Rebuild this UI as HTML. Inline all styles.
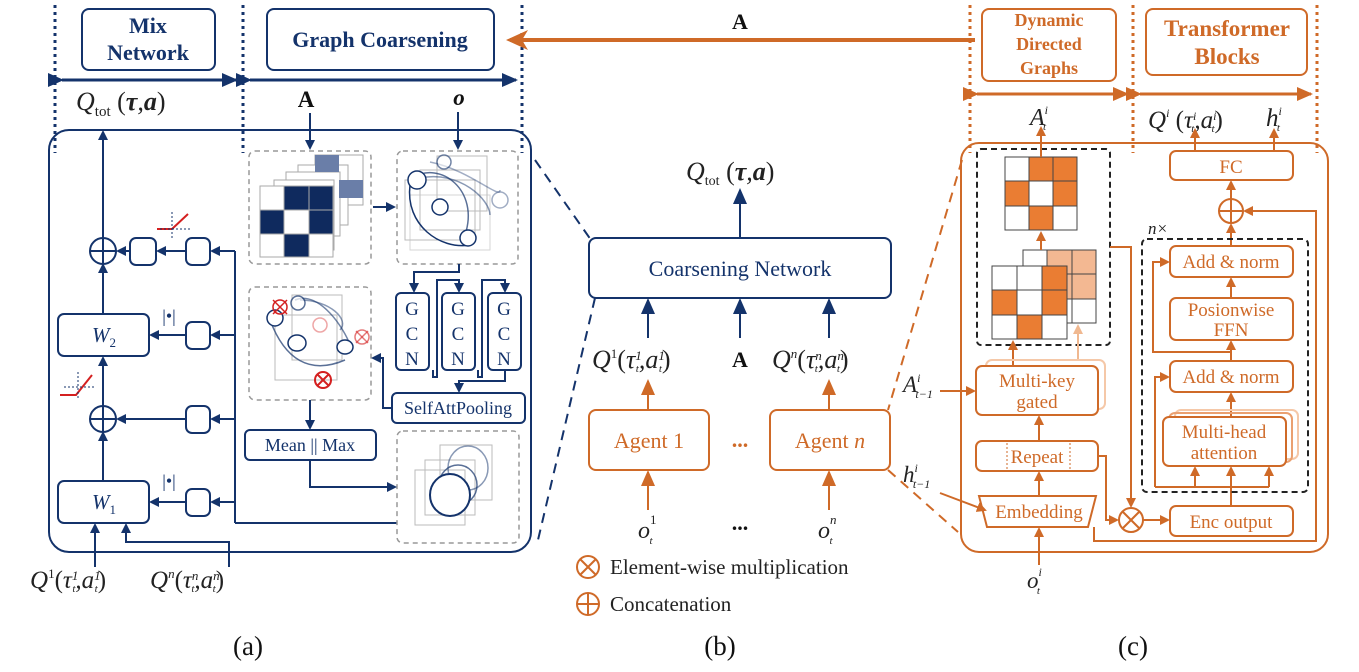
<!DOCTYPE html>
<html><head><meta charset="utf-8"><style>
html,body{margin:0;padding:0;background:#fff}
svg{display:block}
text{font-family:"Liberation Serif",serif}
</style></head><body>
<svg width="1359" height="672" viewBox="0 0 1359 672" xmlns="http://www.w3.org/2000/svg">
<defs>
<marker id="nv" markerWidth="10" markerHeight="10" refX="8" refY="5" orient="auto" markerUnits="userSpaceOnUse"><path d="M0,0 L10,5 L0,10 z" fill="#14336b"/></marker>
<marker id="or" markerWidth="10" markerHeight="10" refX="8" refY="5" orient="auto" markerUnits="userSpaceOnUse"><path d="M0,0 L10,5 L0,10 z" fill="#cf6a28"/></marker>
<marker id="orl" markerWidth="10" markerHeight="10" refX="8" refY="5" orient="auto" markerUnits="userSpaceOnUse"><path d="M0,0 L10,5 L0,10 z" fill="#f0b890"/></marker>
<marker id="nvb" markerWidth="16" markerHeight="14" refX="14" refY="7" orient="auto" markerUnits="userSpaceOnUse"><path d="M0,0 L16,7 L0,14 z" fill="#14336b"/></marker>
<marker id="orb" markerWidth="16" markerHeight="14" refX="14" refY="7" orient="auto" markerUnits="userSpaceOnUse"><path d="M0,0 L16,7 L0,14 z" fill="#cf6a28"/></marker>
<marker id="orbig" markerWidth="22" markerHeight="20" refX="18" refY="10" orient="auto" markerUnits="userSpaceOnUse"><path d="M0,0 L22,10 L0,20 L6,10 z" fill="#cf6a28"/></marker>
</defs>

<!-- ================= PANEL A ================= -->
<g stroke="#14336b" stroke-width="3" stroke-dasharray="3,4" fill="none">
<line x1="55" y1="5" x2="55" y2="153"/><line x1="243" y1="5" x2="243" y2="153"/><line x1="522" y1="5" x2="522" y2="153"/>
</g>
<g fill="#fff" stroke="#14336b" stroke-width="2">
<rect x="82" y="9" width="133" height="61" rx="7"/>
<rect x="267" y="9" width="227" height="61" rx="7"/>
</g>
<text x="148" y="33" font-size="22" font-weight="bold" fill="#14336b" text-anchor="middle">Mix</text>
<text x="148" y="60" font-size="22" font-weight="bold" fill="#14336b" text-anchor="middle">Network</text>
<text x="380" y="47" font-size="22" font-weight="bold" fill="#14336b" text-anchor="middle">Graph Coarsening</text>
<g stroke="#14336b" stroke-width="3" fill="none">
<line x1="62" y1="80" x2="236" y2="80" marker-end="url(#nvb)" marker-start="url(#nvb)"/>
<line x1="250" y1="80" x2="516" y2="80" marker-end="url(#nvb)" marker-start="url(#nvb)"/>
</g>
<text x="76" y="110" font-size="26" font-style="italic" fill="#222">Q<tspan font-size="15" font-style="normal" dy="6">tot</tspan><tspan dy="-6" font-style="normal"> (</tspan><tspan font-weight="bold">τ</tspan>,<tspan font-weight="bold">a</tspan><tspan font-style="normal">)</tspan></text>

<rect x="49" y="130" width="482" height="422" rx="20" fill="none" stroke="#14336b" stroke-width="2"/>

<g stroke="#14336b" stroke-width="2" fill="none">
<line x1="103" y1="481" x2="103" y2="433" marker-end="url(#nv)"/>
<line x1="103" y1="406" x2="103" y2="358" marker-end="url(#nv)"/>
<line x1="103" y1="314" x2="103" y2="265" marker-end="url(#nv)"/>
<line x1="103" y1="238" x2="103" y2="132" marker-end="url(#nv)"/>
<circle cx="103" cy="251" r="13"/><line x1="90" y1="251" x2="116" y2="251"/><line x1="103" y1="238" x2="103" y2="264"/>
<circle cx="103" cy="419" r="13"/><line x1="90" y1="419" x2="116" y2="419"/><line x1="103" y1="406" x2="103" y2="432"/>
<rect x="58" y="314" width="91" height="42" rx="6"/>
<rect x="58" y="481" width="91" height="42" rx="6"/>
<rect x="130" y="238" width="26" height="27" rx="6"/>
<rect x="186" y="238" width="24" height="27" rx="6"/>
<rect x="186" y="322" width="24" height="27" rx="6"/>
<rect x="186" y="406" width="24" height="27" rx="6"/>
<rect x="186" y="489" width="24" height="27" rx="6"/>
<line x1="235" y1="251" x2="235" y2="523"/>
<line x1="235" y1="523" x2="397" y2="523"/>
<line x1="235" y1="251" x2="212" y2="251" marker-end="url(#nv)"/>
<line x1="235" y1="335" x2="212" y2="335" marker-end="url(#nv)"/>
<line x1="235" y1="419" x2="212" y2="419" marker-end="url(#nv)"/>
<line x1="235" y1="502" x2="212" y2="502" marker-end="url(#nv)"/>
<line x1="186" y1="251" x2="158" y2="251" marker-end="url(#nv)"/>
<line x1="130" y1="251" x2="118" y2="251" marker-end="url(#nv)"/>
<line x1="186" y1="335" x2="151" y2="335" marker-end="url(#nv)"/>
<line x1="186" y1="419" x2="118" y2="419" marker-end="url(#nv)"/>
<line x1="186" y1="502" x2="151" y2="502" marker-end="url(#nv)"/>
<line x1="95" y1="567" x2="95" y2="525" marker-end="url(#nv)"/>
<polyline points="229,567 229,542 126,542 126,525" marker-end="url(#nv)"/>
</g>
<text x="104" y="342" font-size="21" font-style="italic" fill="#14336b" text-anchor="middle">W<tspan font-size="13" font-style="normal" dy="5">2</tspan></text>
<text x="104" y="509" font-size="21" font-style="italic" fill="#14336b" text-anchor="middle">W<tspan font-size="13" font-style="normal" dy="5">1</tspan></text>
<text x="169" y="322" font-size="18" fill="#14336b" text-anchor="middle">|•|</text>
<text x="169" y="487" font-size="18" fill="#14336b" text-anchor="middle">|•|</text>
<g fill="none">
<polyline points="157,229 172,229 188,214" stroke="#d42020" stroke-width="2"/>
<line x1="172" y1="212" x2="172" y2="240" stroke="#14336b" stroke-dasharray="2,2" stroke-width="1"/>
<line x1="160" y1="229" x2="190" y2="229" stroke="#14336b" stroke-dasharray="2,2" stroke-width="1"/>
<polyline points="60,395 76,395 92,375" stroke="#d42020" stroke-width="2"/>
<line x1="78" y1="372" x2="78" y2="400" stroke="#14336b" stroke-dasharray="2,2" stroke-width="1"/>
<line x1="64" y1="387" x2="94" y2="387" stroke="#14336b" stroke-dasharray="2,2" stroke-width="1"/>
</g>
<text x="30" y="588" font-size="25" font-style="italic" fill="#222">Q<tspan font-size="13" font-style="normal" dy="-10">1</tspan><tspan dy="10" font-style="normal">(</tspan>τ<tspan font-size="13" dy="-8">1</tspan><tspan font-size="11" dx="-6" dy="12">t</tspan><tspan dy="-4">,a</tspan><tspan font-size="13" dy="-8">1</tspan><tspan font-size="11" dx="-6" dy="12">t</tspan><tspan dy="-4" font-style="normal">)</tspan></text>
<text x="150" y="588" font-size="25" font-style="italic" fill="#222">Q<tspan font-size="13" dy="-10">n</tspan><tspan dy="10" font-style="normal">(</tspan>τ<tspan font-size="13" dy="-8">n</tspan><tspan font-size="11" dx="-7" dy="12">t</tspan><tspan dy="-4">,a</tspan><tspan font-size="13" dy="-8">n</tspan><tspan font-size="11" dx="-7" dy="12">t</tspan><tspan dy="-4" font-style="normal">)</tspan></text>

<!-- graph coarsening inner -->
<text x="306" y="107" font-size="23" font-weight="bold" fill="#111" text-anchor="middle">A</text>
<text x="459" y="105" font-size="23" font-weight="bold" font-style="italic" fill="#111" text-anchor="middle">o</text>
<g stroke="#14336b" stroke-width="2" fill="none">
<line x1="310" y1="113" x2="310" y2="148" marker-end="url(#nv)"/>
<line x1="458" y1="112" x2="458" y2="148" marker-end="url(#nv)"/>
<line x1="373" y1="207" x2="394" y2="207" marker-end="url(#nv)"/>
</g>
<g stroke="#999" stroke-width="1.5" stroke-dasharray="5,4" fill="none">
<rect x="249" y="151" width="122" height="113" rx="6"/>
<rect x="397" y="151" width="121" height="113" rx="6"/>
<rect x="249" y="287" width="122" height="113" rx="6"/>
<rect x="397" y="431" width="122" height="112" rx="6"/>
</g>
<g stroke="#aaa" stroke-width="1" fill="#fff">
<rect x="315" y="155" width="48" height="50"/>
<rect x="298" y="165" width="50" height="60"/>
<rect x="286" y="172" width="54" height="64"/>
<rect x="274" y="180" width="60" height="70"/>
</g>
<rect x="315" y="155" width="24" height="17" fill="#6a7ea8"/>
<rect x="339" y="180" width="24" height="18" fill="#6a7ea8"/>
<g stroke="#aaa" stroke-width="1">
<rect x="260" y="186" width="73" height="71" fill="#fff"/>
<rect x="284" y="186" width="25" height="24" fill="#0f2a5e"/>
<rect x="309" y="186" width="24" height="24" fill="#0f2a5e"/>
<rect x="260" y="210" width="24" height="24" fill="#0f2a5e"/>
<rect x="309" y="210" width="24" height="24" fill="#0f2a5e"/>
<rect x="284" y="234" width="25" height="23" fill="#0f2a5e"/>
</g>
<!-- graph box 2 -->
<g stroke="#bbb" stroke-width="1" fill="none">
<rect x="437" y="156" width="50" height="55"/><rect x="420" y="170" width="60" height="60"/><rect x="405" y="180" width="70" height="60"/><rect x="410" y="195" width="80" height="55" opacity=".6"/>
</g>
<g stroke="#14336b" stroke-width="1.5" fill="#fff">
<path d="M412,178 C440,160 480,190 465,235" fill="none" opacity=".7"/>
<path d="M410,185 C405,225 440,250 470,245" fill="none"/>
<path d="M420,178 C460,170 490,200 490,215" fill="none" opacity=".5"/>
<path d="M430,162 C470,170 500,200 500,190" fill="none" opacity=".4"/>
<ellipse cx="417" cy="180" rx="9" ry="9"/><ellipse cx="440" cy="207" rx="8" ry="8"/><ellipse cx="468" cy="238" rx="8" ry="8"/>
<ellipse cx="444" cy="162" rx="7" ry="7" opacity=".6"/><ellipse cx="500" cy="200" rx="8" ry="8" opacity=".4"/>
</g>
<!-- graph box 3 -->
<g stroke="#bbb" stroke-width="1" fill="none">
<rect x="292" y="295" width="50" height="65"/><rect x="275" y="315" width="62" height="65"/>
</g>
<g stroke="#14336b" stroke-width="1.5" fill="#fff">
<path d="M270,320 C285,360 310,375 345,360" fill="none" opacity=".7"/>
<path d="M295,300 C320,290 345,330 350,345" fill="none" opacity=".6"/>
<path d="M300,300 C330,300 350,320 340,330" fill="none" opacity=".5"/>
<ellipse cx="275" cy="318" rx="8" ry="8"/><ellipse cx="298" cy="303" rx="7" ry="7" opacity=".7"/><ellipse cx="297" cy="343" rx="9" ry="8"/><ellipse cx="345" cy="347" rx="8" ry="7"/>
</g>
<g stroke="#d42020" stroke-width="1.5" fill="none">
<circle cx="280" cy="307" r="7"/><line x1="273" y1="300" x2="287" y2="314"/><line x1="287" y1="300" x2="273" y2="314"/>
<circle cx="362" cy="337" r="7" opacity=".6"/><line x1="356" y1="331" x2="368" y2="343" opacity=".6"/><line x1="368" y1="331" x2="356" y2="343" opacity=".6"/>
<circle cx="320" cy="325" r="7" opacity=".4"/>
<circle cx="323" cy="380" r="8" stroke-width="2"/><line x1="317" y1="374" x2="329" y2="386" stroke-width="2"/><line x1="329" y1="374" x2="317" y2="386" stroke-width="2"/>
</g>
<!-- GCN -->
<g stroke="#14336b" stroke-width="2" fill="none">
<polyline points="459,264 459,272 414,272 414,291" marker-end="url(#nv)"/>
<polyline points="433,370 433,377 437,377 437,280 459,280 459,291" marker-end="url(#nv)"/>
<polyline points="478,370 478,377 482,377 482,280 505,280 505,291" marker-end="url(#nv)"/>
<polyline points="505,370 505,381 459,381 459,391" marker-end="url(#nv)"/>
<rect x="396" y="293" width="33" height="77" rx="5"/>
<rect x="442" y="293" width="33" height="77" rx="5"/>
<rect x="488" y="293" width="33" height="77" rx="5"/>
<rect x="392" y="393" width="133" height="30" rx="5"/>
<polyline points="392,408 383,408 383,358 373,358" marker-end="url(#nv)"/>
<line x1="310" y1="400" x2="310" y2="428" marker-end="url(#nv)"/>
<rect x="245" y="430" width="131" height="30" rx="5"/>
<polyline points="310,460 310,487 395,487" marker-end="url(#nv)"/>
</g>
<g font-size="19" fill="#14336b" text-anchor="middle">
<text x="412" y="315">G</text><text x="412" y="340">C</text><text x="412" y="365">N</text>
<text x="458" y="315">G</text><text x="458" y="340">C</text><text x="458" y="365">N</text>
<text x="504" y="315">G</text><text x="504" y="340">C</text><text x="504" y="365">N</text>
<text x="458" y="414" font-size="18">SelfAttPooling</text>
<text x="310" y="451" font-size="18">Mean || Max</text>
</g>
<g stroke="#bbb" stroke-width="1" fill="none"><rect x="440" y="445" width="52" height="55"/><rect x="425" y="460" width="50" height="55"/><rect x="415" y="470" width="50" height="55"/></g>
<g stroke="#14336b" stroke-width="1.5" fill="none">
<ellipse cx="468" cy="468" rx="20" ry="22" opacity=".5"/>
<ellipse cx="458" cy="485" rx="19" ry="20" opacity=".7"/>
<ellipse cx="450" cy="495" rx="20" ry="21" fill="#fff" stroke-width="2"/>
</g>

<!-- dashed connectors a->b -->
<g stroke="#14336b" stroke-width="2" stroke-dasharray="10,7" fill="none">
<line x1="535" y1="160" x2="591" y2="240"/>
<line x1="595" y1="298" x2="538" y2="540"/>
</g>

<!-- ================= PANEL B ================= -->
<line x1="975" y1="40" x2="510" y2="40" stroke="#cf6a28" stroke-width="4" marker-end="url(#orbig)"/>
<text x="740" y="29" font-size="22" font-weight="bold" fill="#111" text-anchor="middle">A</text>
<text x="686" y="180" font-size="26" font-style="italic" fill="#222">Q<tspan font-size="14" font-style="normal" dy="5">tot</tspan><tspan dy="-5" font-style="normal"> (</tspan><tspan font-weight="bold">τ</tspan>,<tspan font-weight="bold">a</tspan><tspan font-style="normal">)</tspan></text>
<g stroke="#14336b" stroke-width="2" fill="none">
<line x1="740" y1="238" x2="740" y2="190" marker-end="url(#nvb)"/>
<rect x="589" y="238" width="302" height="60" rx="7"/>
<line x1="648" y1="338" x2="648" y2="300" marker-end="url(#nvb)"/>
<line x1="740" y1="338" x2="740" y2="300" marker-end="url(#nvb)"/>
<line x1="829" y1="338" x2="829" y2="300" marker-end="url(#nvb)"/>
</g>
<text x="740" y="276" font-size="22" fill="#14336b" text-anchor="middle">Coarsening Network</text>
<text x="592" y="368" font-size="26" font-style="italic" fill="#222">Q<tspan font-size="13" font-style="normal" dy="-10">1</tspan><tspan dy="10" font-style="normal">(</tspan>τ<tspan font-size="13" dy="-8">1</tspan><tspan font-size="11" dx="-6" dy="12">t</tspan><tspan dy="-4">,a</tspan><tspan font-size="13" dy="-8">1</tspan><tspan font-size="11" dx="-6" dy="12">t</tspan><tspan dy="-4" font-style="normal">)</tspan></text>
<text x="740" y="367" font-size="22" font-weight="bold" fill="#111" text-anchor="middle">A</text>
<text x="772" y="368" font-size="26" font-style="italic" fill="#222">Q<tspan font-size="13" dy="-10">n</tspan><tspan dy="10" font-style="normal">(</tspan>τ<tspan font-size="13" dy="-8">n</tspan><tspan font-size="11" dx="-7" dy="12">t</tspan><tspan dy="-4">,a</tspan><tspan font-size="13" dy="-8">n</tspan><tspan font-size="11" dx="-7" dy="12">t</tspan><tspan dy="-4" font-style="normal">)</tspan></text>
<g stroke="#cf6a28" stroke-width="2" fill="none">
<line x1="648" y1="410" x2="648" y2="381" marker-end="url(#orb)"/>
<line x1="829" y1="410" x2="829" y2="381" marker-end="url(#orb)"/>
<rect x="589" y="410" width="120" height="60" rx="7"/>
<rect x="770" y="410" width="120" height="60" rx="7"/>
<line x1="648" y1="510" x2="648" y2="472" marker-end="url(#orb)"/>
<line x1="829" y1="510" x2="829" y2="472" marker-end="url(#orb)"/>
</g>
<text x="649" y="448" font-size="22" fill="#cf6a28" text-anchor="middle">Agent 1</text>
<text x="830" y="448" font-size="22" fill="#cf6a28" text-anchor="middle">Agent <tspan font-style="italic">n</tspan></text>
<text x="740" y="447" font-size="22" font-weight="bold" fill="#cf6a28" text-anchor="middle">...</text>
<text x="740" y="530" font-size="22" font-weight="bold" fill="#111" text-anchor="middle">...</text>
<text x="638" y="538" font-size="24" font-style="italic" fill="#222">o<tspan font-size="13" font-style="normal" dy="-14">1</tspan><tspan font-size="11" dx="-7" dy="20">t</tspan></text>
<text x="818" y="538" font-size="24" font-style="italic" fill="#222">o<tspan font-size="13" dy="-14">n</tspan><tspan font-size="11" dx="-7" dy="20">t</tspan></text>
<g stroke="#cf6a28" stroke-width="2" fill="none">
<circle cx="588" cy="567" r="11"/><line x1="580" y1="559" x2="596" y2="575"/><line x1="596" y1="559" x2="580" y2="575"/>
<circle cx="588" cy="604" r="11"/><line x1="577" y1="604" x2="599" y2="604"/><line x1="588" y1="593" x2="588" y2="615"/>
</g>
<text x="610" y="574" font-size="21" fill="#222">Element-wise multiplication</text>
<text x="610" y="611" font-size="21" fill="#222">Concatenation</text>
<g stroke="#cf6a28" stroke-width="2" stroke-dasharray="10,7" fill="none">
<line x1="962" y1="160" x2="888" y2="410"/>
<line x1="888" y1="470" x2="958" y2="532"/>
</g>

<text x="248" y="655" font-size="27" fill="#111" text-anchor="middle">(a)</text>
<text x="720" y="655" font-size="27" fill="#111" text-anchor="middle">(b)</text>
<text x="1133" y="655" font-size="27" fill="#111" text-anchor="middle">(c)</text>

<!-- ================= PANEL C ================= -->
<g stroke="#cf6a28" stroke-width="3" stroke-dasharray="3,4" fill="none">
<line x1="970" y1="5" x2="970" y2="153"/><line x1="1133" y1="5" x2="1133" y2="153"/><line x1="1317" y1="5" x2="1317" y2="153"/>
</g>
<g fill="#fff" stroke="#cf6a28" stroke-width="2">
<rect x="982" y="9" width="134" height="72" rx="7"/>
<rect x="1146" y="9" width="161" height="66" rx="7"/>
</g>
<g font-weight="bold" fill="#cf6a28" text-anchor="middle">
<text x="1049" y="26" font-size="18">Dynamic</text>
<text x="1049" y="50" font-size="18">Directed</text>
<text x="1049" y="74" font-size="18">Graphs</text>
<text x="1227" y="36" font-size="23">Transformer</text>
<text x="1227" y="64" font-size="23">Blocks</text>
</g>
<g stroke="#cf6a28" stroke-width="3" fill="none">
<line x1="977" y1="94" x2="1127" y2="94" marker-end="url(#orb)" marker-start="url(#orb)"/>
<line x1="1140" y1="94" x2="1311" y2="94" marker-end="url(#orb)" marker-start="url(#orb)"/>
</g>
<text x="1030" y="125" font-size="24" font-style="italic" fill="#222">A<tspan font-size="12" dy="-11">i</tspan><tspan font-size="11" dx="-5" dy="16">t</tspan></text>
<text x="1148" y="128" font-size="25" font-style="italic" fill="#222">Q<tspan font-size="12" dy="-11">i</tspan><tspan dy="11" font-style="normal"> (</tspan>τ<tspan font-size="12" dy="-8">i</tspan><tspan font-size="11" dx="-5" dy="12">t</tspan><tspan dy="-4">,a</tspan><tspan font-size="12" dy="-8">i</tspan><tspan font-size="11" dx="-5" dy="12">t</tspan><tspan dy="-4" font-style="normal">)</tspan></text>
<text x="1266" y="126" font-size="25" font-style="italic" fill="#222">h<tspan font-size="12" dy="-11">i</tspan><tspan font-size="11" dx="-5" dy="16">t</tspan></text>

<rect x="961" y="143" width="367" height="409" rx="18" fill="none" stroke="#cf6a28" stroke-width="2"/>
<rect x="977" y="149" width="133" height="196" rx="4" fill="none" stroke="#222" stroke-width="2" stroke-dasharray="6,4"/>
<g stroke="#444" stroke-width="1">
<rect x="1005" y="157" width="24" height="24" fill="#fff"/><rect x="1029" y="157" width="24" height="24" fill="#ea7d33"/><rect x="1053" y="157" width="24" height="24" fill="#ea7d33"/>
<rect x="1005" y="181" width="24" height="25" fill="#ea7d33"/><rect x="1029" y="181" width="24" height="25" fill="#fff"/><rect x="1053" y="181" width="24" height="25" fill="#ea7d33"/>
<rect x="1005" y="206" width="24" height="24" fill="#fff"/><rect x="1029" y="206" width="24" height="24" fill="#ea7d33"/><rect x="1053" y="206" width="24" height="24" fill="#fff"/>
</g>
<g stroke="#444" stroke-width="1">
<rect x="1023" y="250" width="24" height="24" fill="#fff"/><rect x="1047" y="250" width="25" height="24" fill="#f3b892"/><rect x="1072" y="250" width="24" height="24" fill="#f3b892"/>
<rect x="1072" y="274" width="24" height="25" fill="#f3b892"/><rect x="1047" y="274" width="25" height="25" fill="#f3b892"/>
<rect x="1072" y="299" width="24" height="24" fill="#fff"/><rect x="1047" y="299" width="25" height="24" fill="#fff"/>
</g>
<g stroke="#444" stroke-width="1">
<rect x="992" y="266" width="25" height="24" fill="#fff"/><rect x="1017" y="266" width="25" height="24" fill="#fff"/><rect x="1042" y="266" width="25" height="24" fill="#ea7d33"/>
<rect x="992" y="290" width="25" height="25" fill="#ea7d33"/><rect x="1017" y="290" width="25" height="25" fill="#fff"/><rect x="1042" y="290" width="25" height="25" fill="#ea7d33"/>
<rect x="992" y="315" width="25" height="24" fill="#fff"/><rect x="1017" y="315" width="25" height="24" fill="#ea7d33"/><rect x="1042" y="315" width="25" height="24" fill="#fff"/>
</g>
<g stroke="#cf6a28" stroke-width="2" fill="none">
<line x1="1041" y1="157" x2="1041" y2="128" marker-end="url(#or)"/>
<line x1="1041" y1="250" x2="1041" y2="233" marker-end="url(#or)"/>
<line x1="1013" y1="366" x2="1013" y2="342" marker-end="url(#or)"/>
<line x1="1078" y1="360" x2="1078" y2="326" stroke="#f0b890" marker-end="url(#orl)"/>
<rect x="986" y="360" width="119" height="49" rx="6" stroke="#f5c8a8"/>
<rect x="976" y="366" width="122" height="49" rx="6" fill="#fff"/>
<line x1="1039" y1="441" x2="1039" y2="417" marker-end="url(#or)"/>
<rect x="976" y="441" width="122" height="30" rx="6"/>
<line x1="1007" y1="443" x2="1007" y2="471" stroke-dasharray="2,2" opacity=".5"/>
<line x1="1070" y1="443" x2="1070" y2="471" stroke-dasharray="2,2" opacity=".5"/>
<line x1="1039" y1="496" x2="1039" y2="473" marker-end="url(#or)"/>
<polygon points="979,496 1096,496 1088,527 987,527"/>
<line x1="1039" y1="565" x2="1039" y2="529" marker-end="url(#or)"/>
<line x1="940" y1="391" x2="974" y2="391" marker-end="url(#or)"/>
<line x1="940" y1="493" x2="985" y2="510" marker-end="url(#or)"/>
<polyline points="1098,456 1106,456 1106,520 1117,520" marker-end="url(#or)"/>
<polyline points="1110,247 1131,247 1131,506" marker-end="url(#or)"/>
<circle cx="1131" cy="520" r="12"/><line x1="1123" y1="512" x2="1139" y2="528"/><line x1="1139" y1="512" x2="1123" y2="528"/>
<line x1="1143" y1="520" x2="1168" y2="520" marker-end="url(#or)"/>
<rect x="1170" y="506" width="123" height="30" rx="6"/>
<polyline points="1094,527 1094,541 1316,541 1316,211 1245,211" marker-end="url(#or)"/>
<rect x="1170" y="151" width="123" height="29" rx="6"/>
<line x1="1195" y1="151" x2="1195" y2="130" marker-end="url(#or)"/>
<line x1="1274" y1="151" x2="1274" y2="130" marker-end="url(#or)"/>
<circle cx="1231" cy="211" r="12"/><line x1="1219" y1="211" x2="1243" y2="211"/><line x1="1231" y1="199" x2="1231" y2="223"/>
<line x1="1231" y1="199" x2="1231" y2="182" marker-end="url(#or)"/>
<line x1="1231" y1="246" x2="1231" y2="225" marker-end="url(#or)"/>
<rect x="1170" y="246" width="123" height="31" rx="6"/>
<line x1="1231" y1="298" x2="1231" y2="279" marker-end="url(#or)"/>
<rect x="1170" y="298" width="123" height="42" rx="6"/>
<line x1="1231" y1="361" x2="1231" y2="342" marker-end="url(#or)"/>
<rect x="1170" y="361" width="123" height="31" rx="6"/>
<polyline points="1231,352 1153,352 1153,262 1168,262" marker-end="url(#or)"/>
<line x1="1231" y1="417" x2="1231" y2="394" marker-end="url(#or)"/>
<rect x="1175" y="410" width="123" height="49" rx="6" stroke="#f5c8a8"/>
<rect x="1169" y="413" width="123" height="49" rx="6" stroke="#eaa070"/>
<rect x="1163" y="417" width="123" height="49" rx="6" fill="#fff"/>
<line x1="1231" y1="506" x2="1231" y2="468" marker-end="url(#or)"/>
<polyline points="1155,487 1269,487"/>
<line x1="1195" y1="487" x2="1195" y2="468" marker-end="url(#or)"/>
<line x1="1269" y1="487" x2="1269" y2="468" marker-end="url(#or)"/>
<polyline points="1155,487 1155,377 1168,377" marker-end="url(#or)"/>
</g>
<rect x="1142" y="239" width="166" height="253" rx="5" fill="none" stroke="#222" stroke-width="2" stroke-dasharray="6,4"/>
<g fill="#cf6a28" text-anchor="middle" font-size="19">
<text x="1037" y="387">Multi-key</text>
<text x="1037" y="408">gated</text>
<text x="1037" y="463">Repeat</text>
<text x="1039" y="518">Embedding</text>
<text x="1231" y="173">FC</text>
<text x="1231" y="268">Add &amp; norm</text>
<text x="1231" y="316">Posionwise</text>
<text x="1231" y="336">FFN</text>
<text x="1231" y="383">Add &amp; norm</text>
<text x="1224" y="438">Multi-head</text>
<text x="1224" y="459">attention</text>
<text x="1231" y="528">Enc output</text>
</g>
<text x="1158" y="234" font-size="17" font-style="italic" fill="#222" text-anchor="middle">n×</text>
<text x="903" y="392" font-size="23" font-style="italic" fill="#222">A<tspan font-size="12" dy="-10">i</tspan><tspan font-size="12" dx="-5" dy="16">t−1</tspan></text>
<text x="903" y="482" font-size="23" font-style="italic" fill="#222">h<tspan font-size="12" dy="-10">i</tspan><tspan font-size="12" dx="-5" dy="16">t−1</tspan></text>
<text x="1027" y="588" font-size="23" font-style="italic" fill="#222">o<tspan font-size="12" dy="-12">i</tspan><tspan font-size="11" dx="-5" dy="18">t</tspan></text>
</svg>
</body></html>
